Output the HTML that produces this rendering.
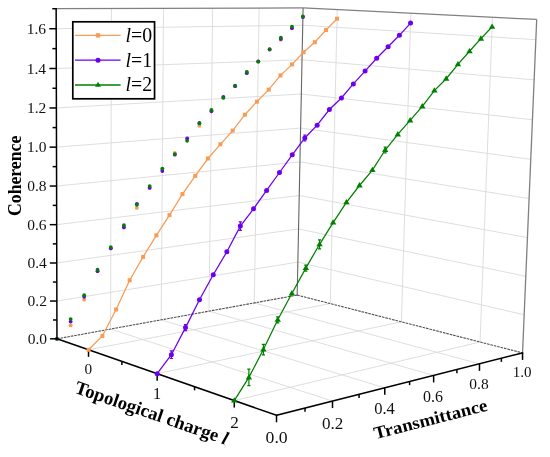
<!DOCTYPE html>
<html><head><meta charset="utf-8"><style>
html,body{margin:0;padding:0;background:#fff;}
svg{display:block;}
</style></head><body>
<svg width="550" height="457" viewBox="0 0 550 457">
<rect width="550" height="457" fill="#fff"/>
<g stroke="#d8d8d8" stroke-width="0.85" fill="none"><line x1="56.87" y1="301.04" x2="297.86" y2="262.12" /><line x1="56.77" y1="262.99" x2="298.54" y2="228.93" /><line x1="56.68" y1="224.66" x2="299.23" y2="195.52" /><line x1="56.58" y1="186.05" x2="299.92" y2="161.9" /><line x1="56.49" y1="147.15" x2="300.62" y2="128.07" /><line x1="56.39" y1="107.97" x2="301.32" y2="94.02" /><line x1="56.3" y1="68.49" x2="302.02" y2="59.75" /><line x1="56.2" y1="28.72" x2="302.74" y2="25.25" /><line x1="110.58" y1="329.06" x2="111.45" y2="8.54" /><line x1="161.18" y1="319.85" x2="163.54" y2="8.37" /><line x1="209" y1="311.15" x2="212.68" y2="8.22" /><line x1="254.27" y1="302.91" x2="259.13" y2="8.07" /><line x1="297.86" y1="262.12" x2="524.17" y2="314.76" /><line x1="298.54" y1="228.93" x2="525.8" y2="276.33" /><line x1="299.23" y1="195.52" x2="527.44" y2="237.62" /><line x1="299.92" y1="161.9" x2="529.1" y2="198.62" /><line x1="300.62" y1="128.07" x2="530.77" y2="159.32" /><line x1="301.32" y1="94.02" x2="532.45" y2="119.74" /><line x1="302.02" y1="59.75" x2="534.14" y2="79.85" /><line x1="302.74" y1="25.25" x2="535.85" y2="39.66" /><line x1="330.26" y1="303.59" x2="337.26" y2="9.61" /><line x1="401.4" y1="321.84" x2="410.87" y2="13.24" /><line x1="480.04" y1="342.01" x2="492.48" y2="17.27" /><line x1="88.52" y1="349.81" x2="330.26" y2="303.59" /><line x1="157.16" y1="373.72" x2="401.4" y2="321.84" /><line x1="234.27" y1="400.57" x2="480.04" y2="342.01" /><line x1="110.58" y1="329.06" x2="332.5" y2="401.1" /><line x1="161.18" y1="319.85" x2="384.75" y2="387.85" /><line x1="209" y1="311.15" x2="433.64" y2="375.45" /><line x1="254.27" y1="302.91" x2="479.48" y2="363.83" /></g>
<g stroke="#808080" stroke-width="1.3" fill="none"><line x1="56.15" y1="8.72" x2="303.09" y2="7.92" /><line x1="303.09" y1="7.92" x2="536.7" y2="19.45" /><line x1="522.55" y1="352.91" x2="536.7" y2="19.45" /></g>
<g stroke="#666" stroke-width="1.1" fill="none"><line x1="297.18" y1="295.1" x2="303.09" y2="7.92" /></g>
<g stroke="#505050" stroke-width="1.1" stroke-dasharray="2.6 0.9" fill="none"><line x1="56.96" y1="338.82" x2="297.18" y2="295.1" /><line x1="297.18" y1="295.1" x2="522.55" y2="352.91" /></g>
<g><circle cx="56.96" cy="338.82" r="1.9" fill="#f79c55"/><circle cx="70.65" cy="325.44" r="1.9" fill="#f79c55"/><circle cx="84.17" cy="299.7" r="1.9" fill="#f79c55"/><circle cx="97.56" cy="271.31" r="1.9" fill="#f79c55"/><circle cx="110.8" cy="248.57" r="1.9" fill="#f79c55"/><circle cx="123.9" cy="227.59" r="1.9" fill="#f79c55"/><circle cx="136.85" cy="207.96" r="1.9" fill="#f79c55"/><circle cx="149.66" cy="187.53" r="1.9" fill="#f79c55"/><circle cx="162.32" cy="169.74" r="1.9" fill="#f79c55"/><circle cx="174.83" cy="152.92" r="1.9" fill="#f79c55"/><circle cx="187.17" cy="139.1" r="1.9" fill="#f79c55"/><circle cx="199.36" cy="125.78" r="1.9" fill="#f79c55"/><circle cx="211.44" cy="110.31" r="1.9" fill="#f79c55"/><circle cx="223.35" cy="97.65" r="1.9" fill="#f79c55"/><circle cx="235.11" cy="85.87" r="1.9" fill="#f79c55"/><circle cx="246.77" cy="72.04" r="1.9" fill="#f79c55"/><circle cx="258.25" cy="61.34" r="1.9" fill="#f79c55"/><circle cx="269.62" cy="49.46" r="1.9" fill="#f79c55"/><circle cx="280.82" cy="39.71" r="1.9" fill="#f79c55"/><circle cx="291.93" cy="27.81" r="1.9" fill="#f79c55"/><circle cx="302.91" cy="16.79" r="1.9" fill="#f79c55"/><circle cx="56.96" cy="338.82" r="1.9" fill="#6c00ec"/><circle cx="70.65" cy="321.53" r="1.9" fill="#6c00ec"/><circle cx="84.17" cy="296.76" r="1.9" fill="#6c00ec"/><circle cx="97.56" cy="271.22" r="1.9" fill="#6c00ec"/><circle cx="110.8" cy="248.33" r="1.9" fill="#6c00ec"/><circle cx="123.9" cy="227.37" r="1.9" fill="#6c00ec"/><circle cx="136.87" cy="203.79" r="1.9" fill="#6c00ec"/><circle cx="149.66" cy="187.96" r="1.9" fill="#6c00ec"/><circle cx="162.31" cy="171.1" r="1.9" fill="#6c00ec"/><circle cx="174.81" cy="154.67" r="1.9" fill="#6c00ec"/><circle cx="187.18" cy="138.41" r="1.9" fill="#6c00ec"/><circle cx="199.39" cy="122.98" r="1.9" fill="#6c00ec"/><circle cx="211.43" cy="111.23" r="1.9" fill="#6c00ec"/><circle cx="223.36" cy="96.78" r="1.9" fill="#6c00ec"/><circle cx="235.11" cy="86.21" r="1.9" fill="#6c00ec"/><circle cx="246.75" cy="73.21" r="1.9" fill="#6c00ec"/><circle cx="258.25" cy="61.41" r="1.9" fill="#6c00ec"/><circle cx="269.62" cy="49.6" r="1.9" fill="#6c00ec"/><circle cx="280.83" cy="38.99" r="1.9" fill="#6c00ec"/><circle cx="291.92" cy="28.36" r="1.9" fill="#6c00ec"/><circle cx="302.9" cy="17.08" r="1.9" fill="#6c00ec"/><circle cx="56.96" cy="338.82" r="1.9" fill="#008000"/><circle cx="70.64" cy="319.09" r="1.9" fill="#008000"/><circle cx="84.17" cy="295.27" r="1.9" fill="#008000"/><circle cx="97.56" cy="269.67" r="1.9" fill="#008000"/><circle cx="110.8" cy="247.08" r="1.9" fill="#008000"/><circle cx="123.91" cy="225.24" r="1.9" fill="#008000"/><circle cx="136.86" cy="204.77" r="1.9" fill="#008000"/><circle cx="149.67" cy="186.06" r="1.9" fill="#008000"/><circle cx="162.33" cy="168.57" r="1.9" fill="#008000"/><circle cx="174.82" cy="154.12" r="1.9" fill="#008000"/><circle cx="187.15" cy="140.86" r="1.9" fill="#008000"/><circle cx="199.39" cy="123.45" r="1.9" fill="#008000"/><circle cx="211.45" cy="109.97" r="1.9" fill="#008000"/><circle cx="223.35" cy="97.85" r="1.9" fill="#008000"/><circle cx="235.12" cy="85.71" r="1.9" fill="#008000"/><circle cx="246.77" cy="71.97" r="1.9" fill="#008000"/><circle cx="258.25" cy="61.64" r="1.9" fill="#008000"/><circle cx="269.63" cy="49.07" r="1.9" fill="#008000"/><circle cx="280.86" cy="37.73" r="1.9" fill="#008000"/><circle cx="291.96" cy="26.71" r="1.9" fill="#008000"/><circle cx="302.92" cy="16.32" r="1.9" fill="#008000"/></g>
<g stroke="#000" stroke-width="1.5" fill="none" stroke-linecap="square"><line x1="56.96" y1="338.82" x2="56.15" y2="8.72" /><line x1="56.96" y1="338.82" x2="276.52" y2="415.29" /><line x1="276.52" y1="415.29" x2="522.55" y2="352.91" /></g>
<g stroke="#000" stroke-width="1.5" fill="none"><line x1="50.06" y1="338.82" x2="56.96" y2="338.82" /><line x1="53.01" y1="319.97" x2="56.91" y2="319.97" /><line x1="49.97" y1="301.04" x2="56.87" y2="301.04" /><line x1="52.92" y1="282.05" x2="56.82" y2="282.05" /><line x1="49.87" y1="262.99" x2="56.77" y2="262.99" /><line x1="52.83" y1="243.86" x2="56.73" y2="243.86" /><line x1="49.78" y1="224.66" x2="56.68" y2="224.66" /><line x1="52.73" y1="205.39" x2="56.63" y2="205.39" /><line x1="49.68" y1="186.05" x2="56.58" y2="186.05" /><line x1="52.64" y1="166.64" x2="56.54" y2="166.64" /><line x1="49.59" y1="147.15" x2="56.49" y2="147.15" /><line x1="52.54" y1="127.6" x2="56.44" y2="127.6" /><line x1="49.49" y1="107.97" x2="56.39" y2="107.97" /><line x1="52.44" y1="88.27" x2="56.34" y2="88.27" /><line x1="49.4" y1="68.49" x2="56.3" y2="68.49" /><line x1="52.35" y1="48.64" x2="56.25" y2="48.64" /><line x1="49.3" y1="28.72" x2="56.2" y2="28.72" /><line x1="52.25" y1="8.72" x2="56.15" y2="8.72" /><line x1="88.52" y1="349.81" x2="88.52" y2="356.81" /><line x1="121.87" y1="361.43" x2="121.87" y2="365.03" /><line x1="157.16" y1="373.72" x2="157.16" y2="380.72" /><line x1="194.56" y1="386.74" x2="194.56" y2="390.34" /><line x1="234.27" y1="400.57" x2="234.27" y2="407.57" /><line x1="276.52" y1="415.29" x2="276.52" y2="422.29" /><line x1="305" y1="408.07" x2="305" y2="411.67" /><line x1="332.5" y1="401.1" x2="332.5" y2="408.1" /><line x1="359.07" y1="394.36" x2="359.07" y2="397.96" /><line x1="384.75" y1="387.85" x2="384.75" y2="394.85" /><line x1="409.6" y1="381.55" x2="409.6" y2="385.15" /><line x1="433.64" y1="375.45" x2="433.64" y2="382.45" /><line x1="456.92" y1="369.55" x2="456.92" y2="373.15" /><line x1="479.48" y1="363.83" x2="479.48" y2="370.83" /><line x1="501.35" y1="358.29" x2="501.35" y2="361.89" /><line x1="522.55" y1="352.91" x2="522.55" y2="359.91" /></g>
<polyline points="88.52,349.81 102.38,336 116.1,309.5 129.69,280.29 143.11,256.89 156.38,235.3 169.49,215.11 182.46,194.1 195.26,175.81 207.91,158.51 220.37,144.29 232.68,130.6 244.88,114.71 256.89,101.7 268.75,89.59 280.51,75.4 292.07,64.4 303.53,52.21 314.8,42.2 325.99,29.99 337.04,18.69" fill="none" stroke="#f79c55" stroke-width="1.25"/>
<g stroke="#f79c55" stroke-width="1.2" fill="none"></g>
<rect x="86.52" y="347.81" width="4" height="4" fill="#f79c55"/><rect x="100.38" y="334" width="4" height="4" fill="#f79c55"/><rect x="114.1" y="307.5" width="4" height="4" fill="#f79c55"/><rect x="127.69" y="278.29" width="4" height="4" fill="#f79c55"/><rect x="141.11" y="254.89" width="4" height="4" fill="#f79c55"/><rect x="154.38" y="233.3" width="4" height="4" fill="#f79c55"/><rect x="167.49" y="213.11" width="4" height="4" fill="#f79c55"/><rect x="180.46" y="192.1" width="4" height="4" fill="#f79c55"/><rect x="193.26" y="173.81" width="4" height="4" fill="#f79c55"/><rect x="205.91" y="156.51" width="4" height="4" fill="#f79c55"/><rect x="218.37" y="142.29" width="4" height="4" fill="#f79c55"/><rect x="230.68" y="128.6" width="4" height="4" fill="#f79c55"/><rect x="242.88" y="112.71" width="4" height="4" fill="#f79c55"/><rect x="254.89" y="99.7" width="4" height="4" fill="#f79c55"/><rect x="266.75" y="87.59" width="4" height="4" fill="#f79c55"/><rect x="278.51" y="73.4" width="4" height="4" fill="#f79c55"/><rect x="290.07" y="62.4" width="4" height="4" fill="#f79c55"/><rect x="301.53" y="50.21" width="4" height="4" fill="#f79c55"/><rect x="312.8" y="40.2" width="4" height="4" fill="#f79c55"/><rect x="323.99" y="27.99" width="4" height="4" fill="#f79c55"/><rect x="335.04" y="16.69" width="4" height="4" fill="#f79c55"/>
<polyline points="157.16,373.72 171.38,354.69 185.5,327.61 199.47,299.7 213.25,274.69 226.85,251.8 240.34,226.1 253.55,208.8 266.61,190.41 279.51,172.5 292.25,154.79 304.83,138 317.16,125.2 329.41,109.5 341.41,98 353.33,83.9 365.07,71.09 376.67,58.29 388.1,46.8 399.39,35.3 410.56,23.1" fill="none" stroke="#6c00ec" stroke-width="1.25"/>
<g stroke="#6c00ec" stroke-width="1.2" fill="none"><path d="M171.38 350.89v7.6M169.78 350.89h3.2M169.78 358.49h3.2"/><path d="M185.5 324.61v6M183.9 324.61h3.2M183.9 330.61h3.2"/><path d="M240.34 221.8v8.6M238.74 221.8h3.2M238.74 230.4h3.2"/><path d="M304.83 135v6M303.23 135h3.2M303.23 141h3.2"/></g>
<circle cx="157.16" cy="373.72" r="2.5" fill="#6c00ec"/><circle cx="171.38" cy="354.69" r="2.5" fill="#6c00ec"/><circle cx="185.5" cy="327.61" r="2.5" fill="#6c00ec"/><circle cx="199.47" cy="299.7" r="2.5" fill="#6c00ec"/><circle cx="213.25" cy="274.69" r="2.5" fill="#6c00ec"/><circle cx="226.85" cy="251.8" r="2.5" fill="#6c00ec"/><circle cx="240.34" cy="226.1" r="2.5" fill="#6c00ec"/><circle cx="253.55" cy="208.8" r="2.5" fill="#6c00ec"/><circle cx="266.61" cy="190.41" r="2.5" fill="#6c00ec"/><circle cx="279.51" cy="172.5" r="2.5" fill="#6c00ec"/><circle cx="292.25" cy="154.79" r="2.5" fill="#6c00ec"/><circle cx="304.83" cy="138" r="2.5" fill="#6c00ec"/><circle cx="317.16" cy="125.2" r="2.5" fill="#6c00ec"/><circle cx="329.41" cy="109.5" r="2.5" fill="#6c00ec"/><circle cx="341.41" cy="98" r="2.5" fill="#6c00ec"/><circle cx="353.33" cy="83.9" r="2.5" fill="#6c00ec"/><circle cx="365.07" cy="71.09" r="2.5" fill="#6c00ec"/><circle cx="376.67" cy="58.29" r="2.5" fill="#6c00ec"/><circle cx="388.1" cy="46.8" r="2.5" fill="#6c00ec"/><circle cx="399.39" cy="35.3" r="2.5" fill="#6c00ec"/><circle cx="410.56" cy="23.1" r="2.5" fill="#6c00ec"/>
<polyline points="234.27,400.57 248.88,377.4 263.38,349.59 277.74,319.79 291.87,293.49 305.82,268.09 319.57,244.3 333.1,222.58 346.44,202.29 359.51,185.5 372.39,170.1 385.22,150 397.78,134.42 410.12,120.41 422.3,106.41 434.39,90.61 446.2,78.71 457.95,64.29 469.5,51.29 480.89,38.68 492.11,26.8" fill="none" stroke="#008000" stroke-width="1.25"/>
<g stroke="#008000" stroke-width="1.2" fill="none"><path d="M248.88 369.2v16.4M247.28 369.2h3.2M247.28 385.6h3.2"/><path d="M263.38 344.29v10.6M261.78 344.29h3.2M261.78 354.89h3.2"/><path d="M277.74 316.79v6M276.14 316.79h3.2M276.14 322.79h3.2"/><path d="M305.82 265.09v6M304.22 265.09h3.2M304.22 271.09h3.2"/><path d="M319.57 239.8v9M317.97 239.8h3.2M317.97 248.8h3.2"/><path d="M385.22 147v6M383.62 147h3.2M383.62 153h3.2"/></g>
<path d="M234.27 397.17l3.2 5.4h-6.4z" fill="#008000"/><path d="M248.88 374l3.2 5.4h-6.4z" fill="#008000"/><path d="M263.38 346.19l3.2 5.4h-6.4z" fill="#008000"/><path d="M277.74 316.39l3.2 5.4h-6.4z" fill="#008000"/><path d="M291.87 290.09l3.2 5.4h-6.4z" fill="#008000"/><path d="M305.82 264.69l3.2 5.4h-6.4z" fill="#008000"/><path d="M319.57 240.9l3.2 5.4h-6.4z" fill="#008000"/><path d="M333.1 219.18l3.2 5.4h-6.4z" fill="#008000"/><path d="M346.44 198.89l3.2 5.4h-6.4z" fill="#008000"/><path d="M359.51 182.1l3.2 5.4h-6.4z" fill="#008000"/><path d="M372.39 166.7l3.2 5.4h-6.4z" fill="#008000"/><path d="M385.22 146.6l3.2 5.4h-6.4z" fill="#008000"/><path d="M397.78 131.02l3.2 5.4h-6.4z" fill="#008000"/><path d="M410.12 117.01l3.2 5.4h-6.4z" fill="#008000"/><path d="M422.3 103.01l3.2 5.4h-6.4z" fill="#008000"/><path d="M434.39 87.21l3.2 5.4h-6.4z" fill="#008000"/><path d="M446.2 75.31l3.2 5.4h-6.4z" fill="#008000"/><path d="M457.95 60.89l3.2 5.4h-6.4z" fill="#008000"/><path d="M469.5 47.89l3.2 5.4h-6.4z" fill="#008000"/><path d="M480.89 35.28l3.2 5.4h-6.4z" fill="#008000"/><path d="M492.11 23.4l3.2 5.4h-6.4z" fill="#008000"/>
<g font-family="Liberation Serif, serif" fill="#111"><text x="47" y="344.06" text-anchor="end" font-size="15.5">0.0</text><text x="46.88" y="306.28" text-anchor="end" font-size="15.5">0.2</text><text x="46.75" y="268.23" text-anchor="end" font-size="15.5">0.4</text><text x="46.62" y="229.9" text-anchor="end" font-size="15.5">0.6</text><text x="46.5" y="191.29" text-anchor="end" font-size="15.5">0.8</text><text x="46.38" y="152.39" text-anchor="end" font-size="15.5">1.0</text><text x="46.25" y="113.21" text-anchor="end" font-size="15.5">1.2</text><text x="46.12" y="73.73" text-anchor="end" font-size="15.5">1.4</text><text x="46" y="33.96" text-anchor="end" font-size="15.5">1.6</text><text x="88.4" y="373.86" text-anchor="middle" font-size="15.25">0</text><text x="157" y="399.46" text-anchor="middle" font-size="16.14">1</text><text x="234.5" y="428.29" text-anchor="middle" font-size="17.14">2</text><text x="276.6" y="443.48" text-anchor="middle" font-size="17.69">0.0</text><text x="332.6" y="428.77" text-anchor="middle" font-size="17.08">0.2</text><text x="384.5" y="413.58" text-anchor="middle" font-size="16.51">0.4</text><text x="433" y="401.7" text-anchor="middle" font-size="15.98">0.6</text><text x="479" y="388.73" text-anchor="middle" font-size="15.48">0.8</text><text x="522" y="376.67" text-anchor="middle" font-size="15.01">1.0</text></g>

<text transform="translate(21.3,216) rotate(-90)" font-family="Liberation Serif, serif" font-weight="bold" font-size="18.4" textLength="80.3" lengthAdjust="spacingAndGlyphs" fill="#000">Coherence</text>
<text transform="translate(73.8,392.4) rotate(19.1)" font-family="Liberation Serif, serif" font-weight="bold" font-size="18.6" textLength="160.8" lengthAdjust="spacingAndGlyphs" fill="#000">Topological charge <tspan font-style="italic">l</tspan></text>
<text transform="translate(375.5,439.3) rotate(-14.4)" font-family="Liberation Serif, serif" font-weight="bold" font-size="17.6" textLength="116.5" lengthAdjust="spacingAndGlyphs" fill="#000">Transmittance</text>


<rect x="72.8" y="21.8" width="81.75" height="77" fill="#fff" stroke="#000" stroke-width="1.7"/>
<line x1="75" y1="35.4" x2="120.6" y2="35.4" stroke="#f79c55" stroke-width="1.3"/>
<rect x="95.8" y="33.2" width="4.4" height="4.4" fill="#f79c55"/>
<line x1="75" y1="60.2" x2="120.6" y2="60.2" stroke="#6c00ec" stroke-width="1.3"/>
<circle cx="98" cy="60.2" r="2.5" fill="#6c00ec"/>
<line x1="75" y1="85" x2="120.6" y2="85" stroke="#008000" stroke-width="1.3"/>
<path d="M98 81.8l3 5h-6z" fill="#008000"/>
<g font-family="Liberation Serif, serif" font-size="21" fill="#000">
<text x="125.6" y="42.2" textLength="26.6" lengthAdjust="spacingAndGlyphs"><tspan font-style="italic">l</tspan>=0</text>
<text x="125.6" y="66.75" textLength="26.6" lengthAdjust="spacingAndGlyphs"><tspan font-style="italic">l</tspan>=1</text>
<text x="125.6" y="91.3" textLength="26.6" lengthAdjust="spacingAndGlyphs"><tspan font-style="italic">l</tspan>=2</text>
</g>

</svg>
</body></html>
